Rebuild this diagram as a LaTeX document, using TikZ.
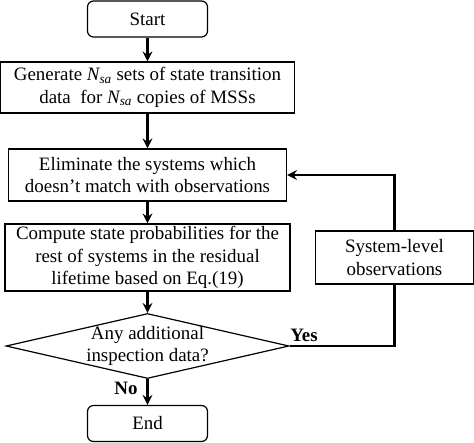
\documentclass[tikz,border=0pt]{standalone}
\usepackage{fontspec}
\setmainfont{Liberation Serif}
\usetikzlibrary{shapes.geometric,arrows.meta}
\begin{document}
\begin{tikzpicture}[x=1bp,y=-1bp]
        \tikzstyle{box}=[rectangle,draw=black,line width=1.2bp,inner sep=0pt,align=center,font=\fontsize{19}{22.5}\selectfont]
        \tikzstyle{term}=[box,rounded corners=6bp,minimum width=120bp,minimum height=36bp]
        \tikzstyle{decision}=[diamond,draw=black,line width=1.2bp,inner sep=0pt,minimum width=283bp,minimum height=65bp]
        \tikzstyle{flow}=[line width=2.4bp,-{Stealth[length=10bp,width=10bp,inset=3.5bp]}]
        \tikzstyle{link}=[line width=2.4bp]
        \tikzstyle{tag}=[font=\bfseries\fontsize{19}{22.5}\selectfont]

      \useasboundingbox (0,0) rectangle (474,443);

      \begin{scope}
         \node[term] (start) at (147.5,19)  {Start};
         \node[box,minimum width=294bp,minimum height=51bp] (gen)  at (147.5,87.5)
              {Generate \textit{N\textsubscript{sa}} sets of state transition\\data \ for \textit{N\textsubscript{sa}} copies of MSSs};
         \node[box,minimum width=278bp,minimum height=52bp] (elim) at (147.5,175)
              {Eliminate the systems which\\doesn't match with observations};
         \node[box,minimum width=285bp,minimum height=67bp] (comp) at (147.5,257.5)
              {Compute state probabilities for the\\rest of systems in the residual\\lifetime based on Eq.(19)};
         \node[decision] (dec) at (147.5,346) {};
         \node[box,draw=none] (dectext) at (dec) {Any additional\\inspection data?};
         \node[term] (end)   at (147.5,423.5) {End};

         \node[box,minimum width=158bp,minimum height=53bp] (obs) at (394.5,257.5)
              {System-level\\observations};

         \node[tag] (yes) at (304,335) {Yes};
         \node[tag] (no)  at (126,388) {No};

         \draw[flow] (start) to (gen);
         \draw[flow] (gen)   to (elim);
         \draw[flow] (elim)  to (comp);
         \draw[flow] (comp)  to (dec);
         \draw[flow] (dec)   to (end);

         \draw[link] (dec.east) -| (obs.south);
         \draw[flow] (obs.north) |- (elim.east);
      \end{scope}
    \end{tikzpicture}
\end{document}
